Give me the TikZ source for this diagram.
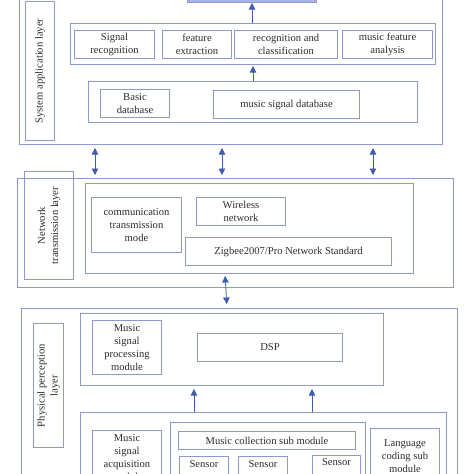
\documentclass[tikz,border=0pt]{standalone}
\usepackage{fontspec}
\setmainfont{Liberation Serif}
\usetikzlibrary{arrows.meta}
\definecolor{bcol}{RGB}{140,152,206}
\definecolor{acol}{RGB}{62,94,172}
\definecolor{topfill}{RGB}{170,180,228}
\definecolor{txt}{RGB}{45,45,45}
\tikzset{
  box/.style={draw=bcol, line width=1pt, inner sep=0pt, align=center, text=txt,
    font=\fontsize{10.6}{13}\selectfont, anchor=north west},
  uparrow/.style={draw=acol, line width=0.8pt, -{Triangle[length=6.5pt,width=6.5pt]}},
  dblarrow/.style={draw=acol, line width=0.8pt, {Triangle[length=6.5pt,width=6.5pt]}-{Triangle[length=6.5pt,width=6.5pt]}},
  layertxt/.style={rotate=90, align=center, text=txt, font=\fontsize{10.6}{13}\selectfont},
  sensorlab/.style={anchor=north, yshift=-0.5pt, text=txt, font=\fontsize{10.6}{13}\selectfont}
}
\begin{document}
\begin{tikzpicture}[x=1pt,y=-1pt]
\useasboundingbox (0,0) rectangle (474,474);
\fill[white] (0,0) rectangle (474,474);
\clip (0,0) rectangle (474,474);
% ===== System application layer =====
\node[box, minimum width=423pt, minimum height=174pt] (sys) at (19,-30) {};
\node[box, minimum width=29pt, minimum height=139pt] (syslab) at (25,1) {};
\node[layertxt] (syslabt) at (syslab.center) {System application layer};
\node[box, fill=topfill, minimum width=129pt, minimum height=22pt] (top) at (187,-20) {};
\node[box, minimum width=365pt, minimum height=41pt] (row) at (70,23) {};
\node[box, minimum width=80pt, minimum height=28pt] (sr) at (74,30) {Signal\\recognition};
\node[box, minimum width=69pt, minimum height=28pt] (fe) at (162,30) {feature\\extraction};
\node[box, minimum width=103pt, minimum height=28pt] (rc) at (234,30) {recognition and\\classification};
\node[box, minimum width=90pt, minimum height=28pt] (mfa) at (342,30) {music feature\\analysis};
\node[box, minimum width=329pt, minimum height=41pt] (db) at (88,81) {};
\node[box, minimum width=69pt, minimum height=28pt] (bdb) at (100,89) {Basic\\database};
\node[box, minimum width=146pt, minimum height=28pt] (msdb) at (213,90) {music signal database};
\draw[uparrow] (row.north -| 252,0) -- (top.south -| 252,0);
\draw[uparrow] (db.north -| 253,0) -- ([yshift=-1pt]row.south -| 253,0);
% ===== Network transmission layer =====
\node[box, minimum width=436pt, minimum height=109pt] (net) at (17,178) {};
\node[box, minimum width=49pt, minimum height=108pt] (netlab) at (24,171) {};
\node[layertxt] (netlabt) at (netlab.center) {Network\\transmission layer};
\node[box, minimum width=328pt, minimum height=90pt] (netin) at (85,183) {};
\node[box, minimum width=90pt, minimum height=55pt] (ctm) at (91,197) {communication\\transmission\\mode};
\node[box, minimum width=89pt, minimum height=28pt] (wn) at (196,197) {Wireless\\network};
\node[box, minimum width=206pt, minimum height=28pt] (zig) at (185,237) {Zigbee2007/Pro Network Standard};
\draw[dblarrow, shorten <=3pt, shorten >=3pt] (sys.south -| 95,0) -- (net.north -| 95,0);
\draw[dblarrow, shorten <=3pt, shorten >=3pt] (sys.south -| 222,0) -- (net.north -| 222,0);
\draw[dblarrow, shorten <=3pt, shorten >=3pt] (sys.south -| 373,0) -- (net.north -| 373,0);
% ===== Physical perception layer =====
\node[box, minimum width=436pt, minimum height=200pt] (phys) at (21,308) {};
\node[box, minimum width=30pt, minimum height=124pt] (physlab) at (33,323) {};
\node[layertxt] (physlabt) at (physlab.center) {Physical perception\\layer};
\node[box, minimum width=303pt, minimum height=72pt] (pup) at (80,313) {};
\node[box, minimum width=69pt, minimum height=54pt] (msp) at (92,320) {Music\\signal\\processing\\module};
\node[box, minimum width=145pt, minimum height=28pt] (dsp) at (197,333) {DSP};
\node[box, minimum width=366pt, minimum height=90pt] (plow) at (80,412) {};
\node[box, minimum width=69pt, minimum height=54pt] (msa) at (92,430) {Music\\signal\\acquisition\\module};
\node[box, minimum width=195pt, minimum height=70pt] (mcc) at (170,422) {};
\node[box, minimum width=177pt, minimum height=18pt] (mcs) at (178,431) {Music collection sub module};
\node[box, minimum width=49pt, minimum height=40pt, label={[sensorlab]north:Sensor}] (s1) at (179,456) {};
\node[box, minimum width=49pt, minimum height=40pt, label={[sensorlab]north:Sensor}] (s2) at (238,456) {};
\node[box, minimum width=48pt, minimum height=40pt, label={[sensorlab, yshift=0.5pt]north:Sensor}] (s3) at (312,455) {};
\node[box, minimum width=69pt, minimum height=55pt] (lcs) at (370,428) {Language\\coding sub\\module};
\draw[dblarrow, shorten <=2pt, shorten >=4pt] (netin.south -| 225,0) -- (phys.north -| 227,0);
\draw[uparrow, shorten >=3pt] (plow.north -| 194,0) -- (pup.south -| 194,0);
\draw[uparrow, shorten >=3pt] (plow.north -| 312,0) -- (pup.south -| 312,0);
\end{tikzpicture}
\end{document}
